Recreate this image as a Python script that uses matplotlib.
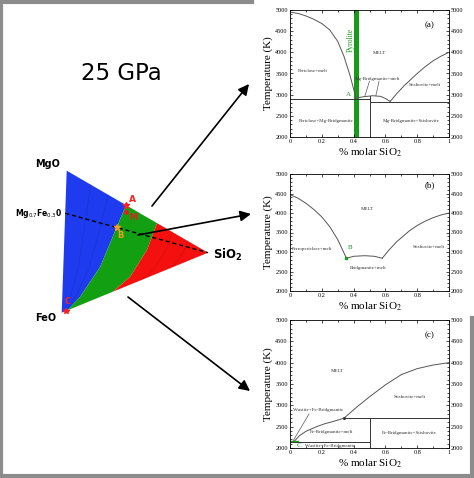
import numpy as np
import matplotlib.pyplot as plt
from matplotlib.ticker import MultipleLocator

plt.rcParams['mathtext.fontset'] = 'stix'

# ---- ternary schematic data (fractions MgO, FeO, SiO2) ----
blue_green = [[0.58, 0.0, 0.42], [0.448, 0.192, 0.36], [0.214, 0.531, 0.255],
              [0.059, 0.818, 0.123], [0.0, 0.96, 0.04]]
green_red = [[0.36, 0.0, 0.64], [0.198, 0.226, 0.576], [0.055, 0.48, 0.465],
             [0.0, 0.65, 0.35]]
pt_A = [0.58, 0.0, 0.42]
pt_M = [0.53, 0.05, 0.42]
pt_B = [0.448, 0.192, 0.36]
pt_C = [0.0, 0.97, 0.03]
mg07 = [0.7, 0.3, 0.0]

# ---- phase diagram data ----
# (a) MgO-SiO2
a_liq_left_x = [0, 0.05, 0.1, 0.15, 0.2, 0.25, 0.3, 0.34, 0.38, 0.415]
a_liq_left_T = [4950, 4920, 4860, 4780, 4680, 4530, 4260, 3900, 3420, 2920]
a_dome_x = [0.415, 0.46, 0.52, 0.57, 0.6, 0.63]
a_dome_T = [2920, 2950, 2975, 2960, 2910, 2840]
a_liq_right_x = [0.63, 0.67, 0.72, 0.8, 0.85, 0.9, 0.95, 1.0]
a_liq_right_T = [2840, 3020, 3220, 3500, 3660, 3800, 3910, 4000]
a_sol_left, a_sol_right = 2900, 2830
# (b) Mg0.7Fe0.3O-SiO2
b_liq_left_x = [0, 0.05, 0.1, 0.15, 0.2, 0.25, 0.3, 0.355]
b_liq_left_T = [4470, 4380, 4250, 4090, 3900, 3650, 3320, 2840]
b_dome_x = [0.355, 0.4, 0.47, 0.53, 0.58]
b_dome_T = [2840, 2890, 2905, 2890, 2840]
b_liq_right_x = [0.58, 0.62, 0.67, 0.75, 0.8, 0.85, 0.9, 0.95, 1.0]
b_liq_right_T = [2840, 3040, 3260, 3540, 3680, 3790, 3880, 3950, 4000]
# (c) FeO-SiO2
c_liq_x = [0.03, 0.06, 0.1, 0.167, 0.22, 0.27, 0.34, 0.42, 0.5, 0.6, 0.7, 0.8, 0.9, 1.0]
c_liq_T = [2170, 2290, 2390, 2500, 2570, 2620, 2700, 2960, 3200, 3480, 3720, 3860, 3945, 4000]
c_sol_high, c_sol_low = 2700, 2130

# triangle corners in figure pixels (MgO, FeO, SiO2)
V = np.array([[66.7, 170.7], [61.7, 312.7], [208.0, 252.7]])


def tern(p):
    return np.atleast_2d(p) @ V


fig = plt.figure(figsize=(4.74, 4.78), dpi=100)
ax0 = fig.add_axes([0, 0, 1, 1])
ax0.set_xlim(0, 474)
ax0.set_ylim(478, 0)
ax0.axis('off')

# grey frame
gray = '#8c8c8c'
ax0.plot([1.5, 1.5], [0, 478], color=gray, lw=3)
ax0.plot([0, 252], [1.5, 1.5], color=gray, lw=3)
ax0.plot([0, 474], [476, 476], color=gray, lw=3)
ax0.plot([472, 472], [318, 478], color=gray, lw=3)

ax0.text(121, 73, '25 GPa', fontsize=16.5, ha='center', va='center')

bg = tern(blue_green)
gr = tern(green_red)
blue_poly = np.vstack([V[0], bg, V[1]])
green_poly = np.vstack([bg, gr[::-1]])
red_poly = np.vstack([gr, V[2]])
ax0.fill(blue_poly[:, 0], blue_poly[:, 1], color='#1f3bf0', lw=0)
ax0.fill(green_poly[:, 0], green_poly[:, 1], color='#12a012', lw=0)
ax0.fill(red_poly[:, 0], red_poly[:, 1], color='#f51010', lw=0)

# faint contour lines inside the fields
bgc = np.array(blue_green)
edge = bgc.copy()
edge[:, 2] = 0
edge /= edge.sum(axis=1, keepdims=True)
for k in [0.3, 0.6]:
    line = tern(bgc * (1 - k) + edge * k)
    ax0.plot(line[:, 0], line[:, 1], color='#10208a', lw=0.4, alpha=0.35)
for k in [0.3, 0.6]:
    line = gr * (1 - k) + V[2] * k
    ax0.plot(line[:, 0], line[:, 1], color='#8a0a0a', lw=0.4, alpha=0.35)

dl = tern([mg07, [0, 0, 1]])
ax0.plot(dl[:, 0], dl[:, 1], color='black', ls=(0, (3, 2)), lw=1)

a, m, b, c = tern(pt_A)[0], tern(pt_M)[0], tern(pt_B)[0], tern(pt_C)[0]
ax0.plot(*a, marker='*', color='#ff2020', ms=5)
ax0.text(a[0] + 3, a[1] - 3, 'A', color='#ff2020', fontsize=6.5, fontweight='bold')
ax0.plot(*m, marker='o', color='#e02020', ms=2.5)
ax0.text(m[0] + 3, m[1] + 8, 'M', color='#e02020', fontsize=6, fontweight='bold')
ax0.plot(*b, marker='*', color='#f0a020', ms=5)
ax0.text(b[0] + 1, b[1] + 11, 'B', color='#f0a020', fontsize=6, fontweight='bold')
ax0.plot(*c, marker='*', color='#ff2020', ms=4)
ax0.text(c[0] - 1, c[1] - 7, 'C', color='#ff2020', fontsize=6, fontweight='bold')

ax0.text(V[0][0] - 7, V[0][1] - 4, 'MgO', fontsize=7, fontweight='bold', ha='right')
ax0.text(V[1][0] - 5, V[1][1] + 8, 'FeO', fontsize=7, fontweight='bold', ha='right')
ax0.text(V[2][0] + 5, V[2][1] + 2, 'SiO$_\\mathbf{2}$', fontsize=8.5, fontweight='bold',
         va='center', family='DejaVu Sans', math_fontfamily='dejavusans')
ax0.text(dl[0][0] - 3, dl[0][1], 'Mg$_{0.7}$Fe$_{0.3}$0', fontsize=5.5, fontweight='bold',
         ha='right', va='center', math_fontfamily='dejavusans')

arrows = [((152, 206), (249, 84)), ((138, 235), (251, 214)), ((128, 297), (250, 391))]
for start, end in arrows:
    ax0.annotate('', xy=end, xytext=start,
                 arrowprops=dict(arrowstyle='-|>', color='black', lw=1.2,
                                 mutation_scale=16, shrinkA=0, shrinkB=0))

# ---- phase diagram panels ----
serif = 'Liberation Serif'
lc = '#555555'
panels = [[290 / 474, (478 - 137) / 478, 159 / 474, 127 / 478],
          [290 / 474, (478 - 291) / 478, 159 / 474, 117 / 478],
          [290 / 474, (478 - 448) / 478, 159 / 474, 128 / 478]]
axes = [fig.add_axes(p) for p in panels]
for ax in axes:
    ax.set_xlim(0, 1)
    ax.set_ylim(2000, 5000)
    ax.xaxis.set_minor_locator(MultipleLocator(0.1))
    ax.yaxis.set_major_locator(MultipleLocator(500))
    ax.yaxis.set_minor_locator(MultipleLocator(100))
    ax.set_xticks([0, 0.2, 0.4, 0.6, 0.8, 1])
    ax.set_xticklabels(['0', '0.2', '0.4', '0.6', '0.8', '1'], family=serif)
    ax.tick_params(which='both', direction='in', top=True, right=True,
                   labelright=True, labelsize=4.5, pad=1.5, width=0.5)
    ax.tick_params(which='major', length=2.5)
    ax.tick_params(which='minor', length=1.2)
    for lab in ax.get_yticklabels():
        lab.set_family(serif)
    for s in ax.spines.values():
        s.set_linewidth(0.6)
    ax.set_ylabel('Temperature (K)', family=serif, fontsize=8, labelpad=2)
    ax.set_xlabel('% molar SiO$_2$', family=serif, fontsize=8, labelpad=1.5)

lab_kw = dict(fontsize=3.6, family=serif, ha='center', va='center', color='#333333')

# (a)
ax = axes[0]
ax.axvspan(0.4, 0.435, color='#1a9a1a', lw=0)
ax.plot(a_liq_left_x, a_liq_left_T, color=lc, lw=0.7)
ax.plot(a_dome_x, a_dome_T, color=lc, lw=0.7)
ax.plot(a_liq_right_x, a_liq_right_T, color=lc, lw=0.7)
ax.plot([0, 0.5], [a_sol_left, a_sol_left], color='#333333', lw=0.7)
ax.plot([0.5, 1], [a_sol_right, a_sol_right], color='#333333', lw=0.7)
ax.plot([0.5, 0.5], [2000, 2960], color='#333333', lw=0.7)
ax.plot([0.5, 0.47], [3320, 2955], color=lc, lw=0.5)
ax.plot([0.56, 0.54], [3320, 2975], color=lc, lw=0.5)
ax.text(0.385, 4300, 'Pyrolite', rotation=90, color='#1a9a1a', fontsize=5.5,
        family=serif, ha='center', va='center')
ax.text(0.37, 3000, 'A', color='#1a9a1a', fontsize=5, family=serif, ha='center', va='center')
ax.text(0.565, 3980, 'MELT', **lab_kw)
ax.text(0.145, 3550, 'Periclase+melt', **lab_kw)
ax.text(0.55, 3380, 'Mg-Bridgmanite+melt', **lab_kw)
ax.text(0.85, 3240, 'Stishovite+melt', **lab_kw)
ax.text(0.23, 2380, 'Periclase+Mg-Bridgmanite', **lab_kw)
ax.text(0.765, 2380, 'Mg-Bridgmanite+Stishovite', **lab_kw)
ax.text(0.88, 4650, '(a)', fontsize=6.5, family=serif, ha='center', va='center')

# (b)
ax = axes[1]
ax.plot(b_liq_left_x, b_liq_left_T, color=lc, lw=0.7)
ax.plot(b_dome_x, b_dome_T, color=lc, lw=0.7)
ax.plot(b_liq_right_x, b_liq_right_T, color=lc, lw=0.7)
ax.plot(b_liq_left_x[-1], b_liq_left_T[-1], 's', color='#1a9a1a', ms=1.8)
ax.text(0.376, 3110, 'B', color='#1a9a1a', fontsize=5, family=serif, ha='center', va='center')
ax.text(0.49, 4100, 'MELT', **lab_kw)
ax.text(0.14, 3080, 'Ferropericlase+melt', **lab_kw)
ax.text(0.49, 2600, 'Bridgmanite+melt', **lab_kw)
ax.text(0.87, 3140, 'Stishovite+melt', **lab_kw)
ax.text(0.88, 4720, '(b)', fontsize=6.5, family=serif, ha='center', va='center')

# (c)
ax = axes[2]
ax.plot(c_liq_x, c_liq_T, color=lc, lw=0.7)
ax.plot(c_liq_x[6], c_liq_T[6], 'o', color='#333333', ms=1.2)
ax.plot([c_liq_x[6], 1], [c_sol_high, c_sol_high], color='#333333', lw=0.7)
ax.plot([0.5, 0.5], [2000, c_sol_high], color='#333333', lw=0.7)
ax.plot([0, 0.5], [c_sol_low, c_sol_low], color='#333333', lw=0.7)
ax.plot([0, 0.05], [2165, 2165], color='#1a9a1a', lw=1.0)
ax.plot([0.02, 0.12], [2170, 2800], color=lc, lw=0.5)
ax.text(0.06, 2060, 'C', color='#1a9a1a', fontsize=5, family=serif, ha='center', va='center')
ax.text(0.3, 3800, 'MELT', **lab_kw)
ax.text(0.75, 3200, 'Stishovite+melt', **lab_kw)
ax.text(0.18, 2890, 'Wustite+Fe-Bridgmanite', **lab_kw)
ax.text(0.26, 2370, 'Fe-Bridgmanite+melt', **lab_kw)
ax.text(0.75, 2350, 'Fe-Bridgmanite+Stishovite', **lab_kw)
ax.text(0.25, 2050, 'Wustite+Fe-Bridgmanite', **lab_kw)
ax.text(0.88, 4650, '(c)', fontsize=6.5, family=serif, ha='center', va='center')

fig.savefig('out.png', dpi=100)
